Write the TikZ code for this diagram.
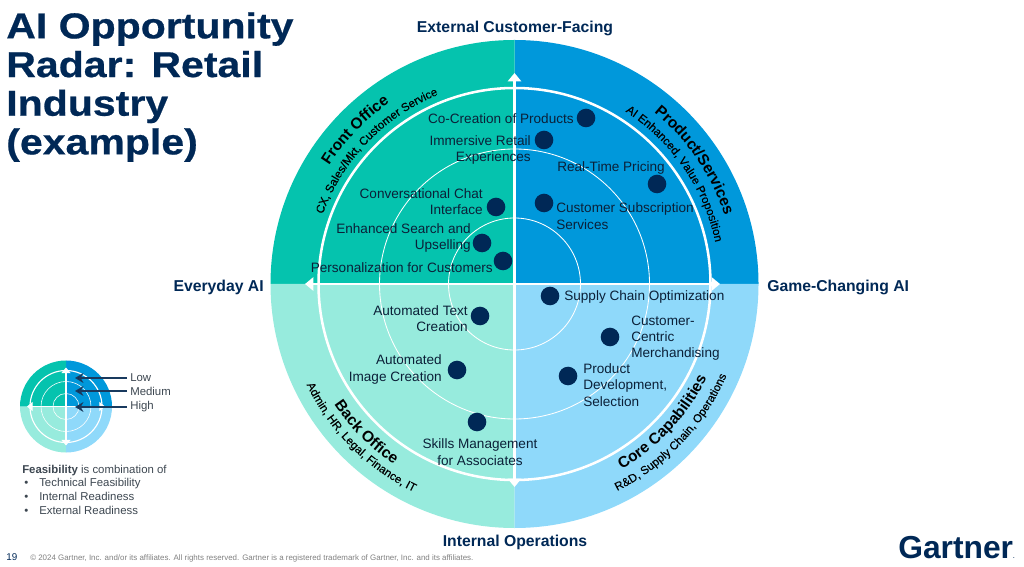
\documentclass[tikz,border=0pt]{standalone}
\usepackage{fontspec}
\setmainfont{Liberation Sans}
\newfontfamily\titlefont[FakeStretch=1.14,FakeBold=0.6]{Liberation Sans Bold}
\newfontfamily\arcsubfam[FakeBold=0.3]{Liberation Sans}
\usetikzlibrary{arrows.meta,decorations.text}

\definecolor{frontteal}{HTML}{05C3AE}
\definecolor{productblue}{HTML}{0098DB}
\definecolor{backmint}{HTML}{97EBDD}
\definecolor{coresky}{HTML}{8FD9FA}
\definecolor{navy}{HTML}{002856}
\definecolor{labelink}{HTML}{0B2038}
\definecolor{smallgrey}{HTML}{3C4650}

\newcommand{\arcboldfont}{\bfseries\fontsize{11}{12}\selectfont}
\newcommand{\arcsubfont}{\arcsubfam\fontsize{8.2}{10}\selectfont}

\tikzset{
    dot/.style={circle, fill=navy, draw=none, minimum size=18.6*0.7113pt, inner sep=0pt},
    oplabel/.style={inner sep=0pt, text=labelink, font=\fontsize{9.66}{11.6}\selectfont},
    axislabel/.style={inner sep=0pt, text=navy, font=\bfseries\fontsize{11.2}{13}\selectfont},
    legendtext/.style={inner sep=0pt, anchor=west, text=smallgrey, font=\fontsize{8.1}{9.8}\selectfont},
    noteline/.style={legendtext, anchor=base west},
    bigaxis/.style={white, line width=1.5pt, -{Triangle[length=6pt,width=9.5pt]}},
    tinyaxis/.style={white, line width=0.8pt, -{Triangle[length=4pt,width=6.5pt]}},
    leader/.style={draw=navy!80!gray, line width=1pt, shorten <=2pt, -{Stealth[length=6pt,width=7pt,fill=navy]}},
    arcbold/.style={postaction={decorate, decoration={text along path, text align=center, text={|\arcboldfont|#1}}}},
    arcsub/.style={postaction={decorate, decoration={text along path, text align=center, text={|\arcsubfont|#1}}}}
}

\begin{document}
\begin{tikzpicture}[x=0.025cm, y=0.025cm]
\useasboundingbox (0,0) rectangle (1024,566);

% Centre of the radar
\coordinate (radar) at (514.5,282);

% Quadrants
\foreach \quadcol/\ang in {productblue/0, frontteal/90, backmint/180, coresky/270}
    \fill[\quadcol] (radar) -- ++(\ang:244) arc[start angle=\ang, delta angle=90, radius=244] -- cycle;

% Rings
\draw[white, line width=1.8pt] (radar) circle[radius=196];
\draw[white, line width=0.6pt] (radar) circle[radius=135];
\draw[white, line width=0.6pt] (radar) circle[radius=66];

% Axes
\coordinate (north) at (514.5,493);
\coordinate (south) at (514.5,79);
\coordinate (west) at (305,282);
\coordinate (east) at (720,282);
\draw[bigaxis] (radar) -- (north);
\draw[bigaxis] (radar) -- (south);
\draw[bigaxis] (radar) -- (west);
\draw[bigaxis] (radar) -- (east);

% Texts on the arcs
\path[arcbold={Front Office}] (radar) ++(170:220) arc[start angle=170, end angle=102, radius=220];
\path[arcsub={CX, Sales/Mkt, Customer Service}] (radar) ++(175:204) arc[start angle=175, end angle=97, radius=204];
\path[arcbold={Product/Services}] (radar) ++(75:221) arc[start angle=75, end angle=-6, radius=221];
\path[arcsub={AI Enhanced, Value Proposition}] (radar) ++(75:205) arc[start angle=75, end angle=-6, radius=205];
\path[arcbold={Back Office}] (radar) ++(190:217) arc[start angle=190, end angle=260, radius=217];
\path[arcsub={Admin, HR, Legal, Finance, IT}] (radar) ++(185:231) arc[start angle=185, end angle=265, radius=231];
\path[arcbold={Core Capabilities}] (radar) ++(-85:214) arc[start angle=-85, end angle=-1, radius=214];
\path[arcsub={R{\&}D, Supply Chain, Operations}] (radar) ++(-85:231) arc[start angle=-85, end angle=-2, radius=231];

% Opportunities
\node[dot] (cocreation) at (586,448) {};
\node[dot] (immersive) at (544,426) {};
\node[dot] (pricing) at (657,382) {};
\node[dot] (subscription) at (544,363) {};
\node[dot] (chat) at (496,359) {};
\node[dot] (search) at (482,323) {};
\node[dot] (personal) at (503,305) {};
\node[dot] (supply) at (550,270) {};
\node[dot] (merch) at (610,229) {};
\node[dot] (proddev) at (568,190) {};
\node[dot] (autotext) at (480,250) {};
\node[dot] (autoimage) at (457,196) {};
\node[dot] (skills) at (477,144) {};

\node[oplabel, anchor=east] (cocreationtxt) at (574,447) {Co-Creation of Products};
\node[oplabel, anchor=east, align=right] (immersivetxt) at (531,416) {Immersive Retail\\Experiences};
\node[oplabel, anchor=west] (pricingtxt) at (557,398) {Real-Time Pricing};
\node[oplabel, anchor=west, align=left] (subscriptiontxt) at (556,350) {Customer Subscription\\Services};
\node[oplabel, anchor=east, align=right] (chattxt) at (483,364.5) {Conversational Chat\\Interface};
\node[oplabel, anchor=east, align=right] (searchtxt) at (471,328) {Enhanced Search and\\Upselling};
\node[oplabel, anchor=east] (personaltxt) at (493,298) {Personalization for Customers};
\node[oplabel, anchor=west] (supplytxt) at (564,269) {Supply Chain Optimization};
\node[oplabel, anchor=west, align=left] (merchtxt) at (631,228) {Customer-\\Centric\\Merchandising};
\node[oplabel, anchor=west, align=left] (proddevtxt) at (583,181) {Product\\Development,\\Selection};
\node[oplabel, anchor=east, align=right] (autotexttxt) at (468,247.5) {Automated Text\\Creation};
\node[oplabel, anchor=east, align=right] (autoimagetxt) at (442,196.5) {Automated\\Image Creation};
\node[oplabel, align=center] (skillstxt) at (480,114) {Skills Management\\for Associates};

% Axis labels
\node[axislabel] (external) at (515,538) {External Customer-Facing};
\node[axislabel] (internal) at (515,24) {Internal Operations};
\node[axislabel, anchor=east] (everyday) at (264,279) {Everyday AI};
\node[axislabel, anchor=west] (gamechanging) at (767,279) {Game-Changing AI};

% Title
\node[anchor=north west, inner sep=0pt, align=left, text=navy,
      font=\titlefont\fontsize{25.6}{27.5}\selectfont] (title) at (6,554)
      {AI Opportunity\\Radar: Retail\\Industry\\(example)};

% Small legend radar
\begin{scope}[shift={(66,159.5)}]
    \coordinate (mini) at (0,0);
    \foreach \quadcol/\ang in {productblue/0, frontteal/90, backmint/180, coresky/270}
        \fill[\quadcol] (mini) -- ++(\ang:46) arc[start angle=\ang, delta angle=90, radius=46] -- cycle;
    \draw[white, line width=0.8pt] (mini) circle[radius=36];
    \draw[white, line width=0.4pt] (mini) circle[radius=25];
    \draw[white, line width=0.4pt] (mini) circle[radius=13];
    \coordinate (mininorth) at (0,39);
    \coordinate (minisouth) at (0,-39);
    \coordinate (miniwest) at (-39,0);
    \coordinate (minieast) at (39,0);
    \draw[tinyaxis] (mini) -- (mininorth);
    \draw[tinyaxis] (mini) -- (minisouth);
    \draw[tinyaxis] (mini) -- (miniwest);
    \draw[tinyaxis] (mini) -- (minieast);
\end{scope}

\node[legendtext] (low) at (130,188) {Low};
\node[legendtext] (medium) at (130,175) {Medium};
\node[legendtext] (high) at (130,159) {High};
\coordinate (lowtip) at (75,188);
\coordinate (mediumtip) at (75,175);
\coordinate (hightip) at (75,159);
\draw[leader] (low.west) -- (lowtip);
\draw[leader] (medium.west) -- (mediumtip);
\draw[leader] (high.west) -- (hightip);

% Feasibility note
\node[noteline] (feas) at (22,93) {\textbf{Feasibility} is combination of};
\node[noteline] (bulleta) at (24,80) {•};
\node[noteline] (bulletb) at (24,66) {•};
\node[noteline] (bulletc) at (24,52) {•};
\node[noteline] (technical) at (39,80) {Technical Feasibility};
\node[noteline] (readiness) at (39,66) {Internal Readiness};
\node[noteline] (extreadiness) at (39,52) {External Readiness};

% Footer
\node[inner sep=0pt, anchor=base west, text=navy, font=\fontsize{7}{8}\selectfont] (pagenum) at (6,6) {19};
\node[inner sep=0pt, anchor=base west, text=gray, font=\fontsize{5.64}{6}\selectfont] (legal) at (30,6)
    {© 2024 Gartner, Inc. and/or its affiliates. All rights reserved. Gartner is a registered trademark of Gartner, Inc. and its affiliates.};
\node[inner sep=0pt, anchor=base west, text=navy, font=\bfseries\fontsize{22.6}{24}\selectfont] (logo) at (898,8) {Gartner\fontsize{4}{4}\selectfont.};

\end{tikzpicture}
\end{document}
